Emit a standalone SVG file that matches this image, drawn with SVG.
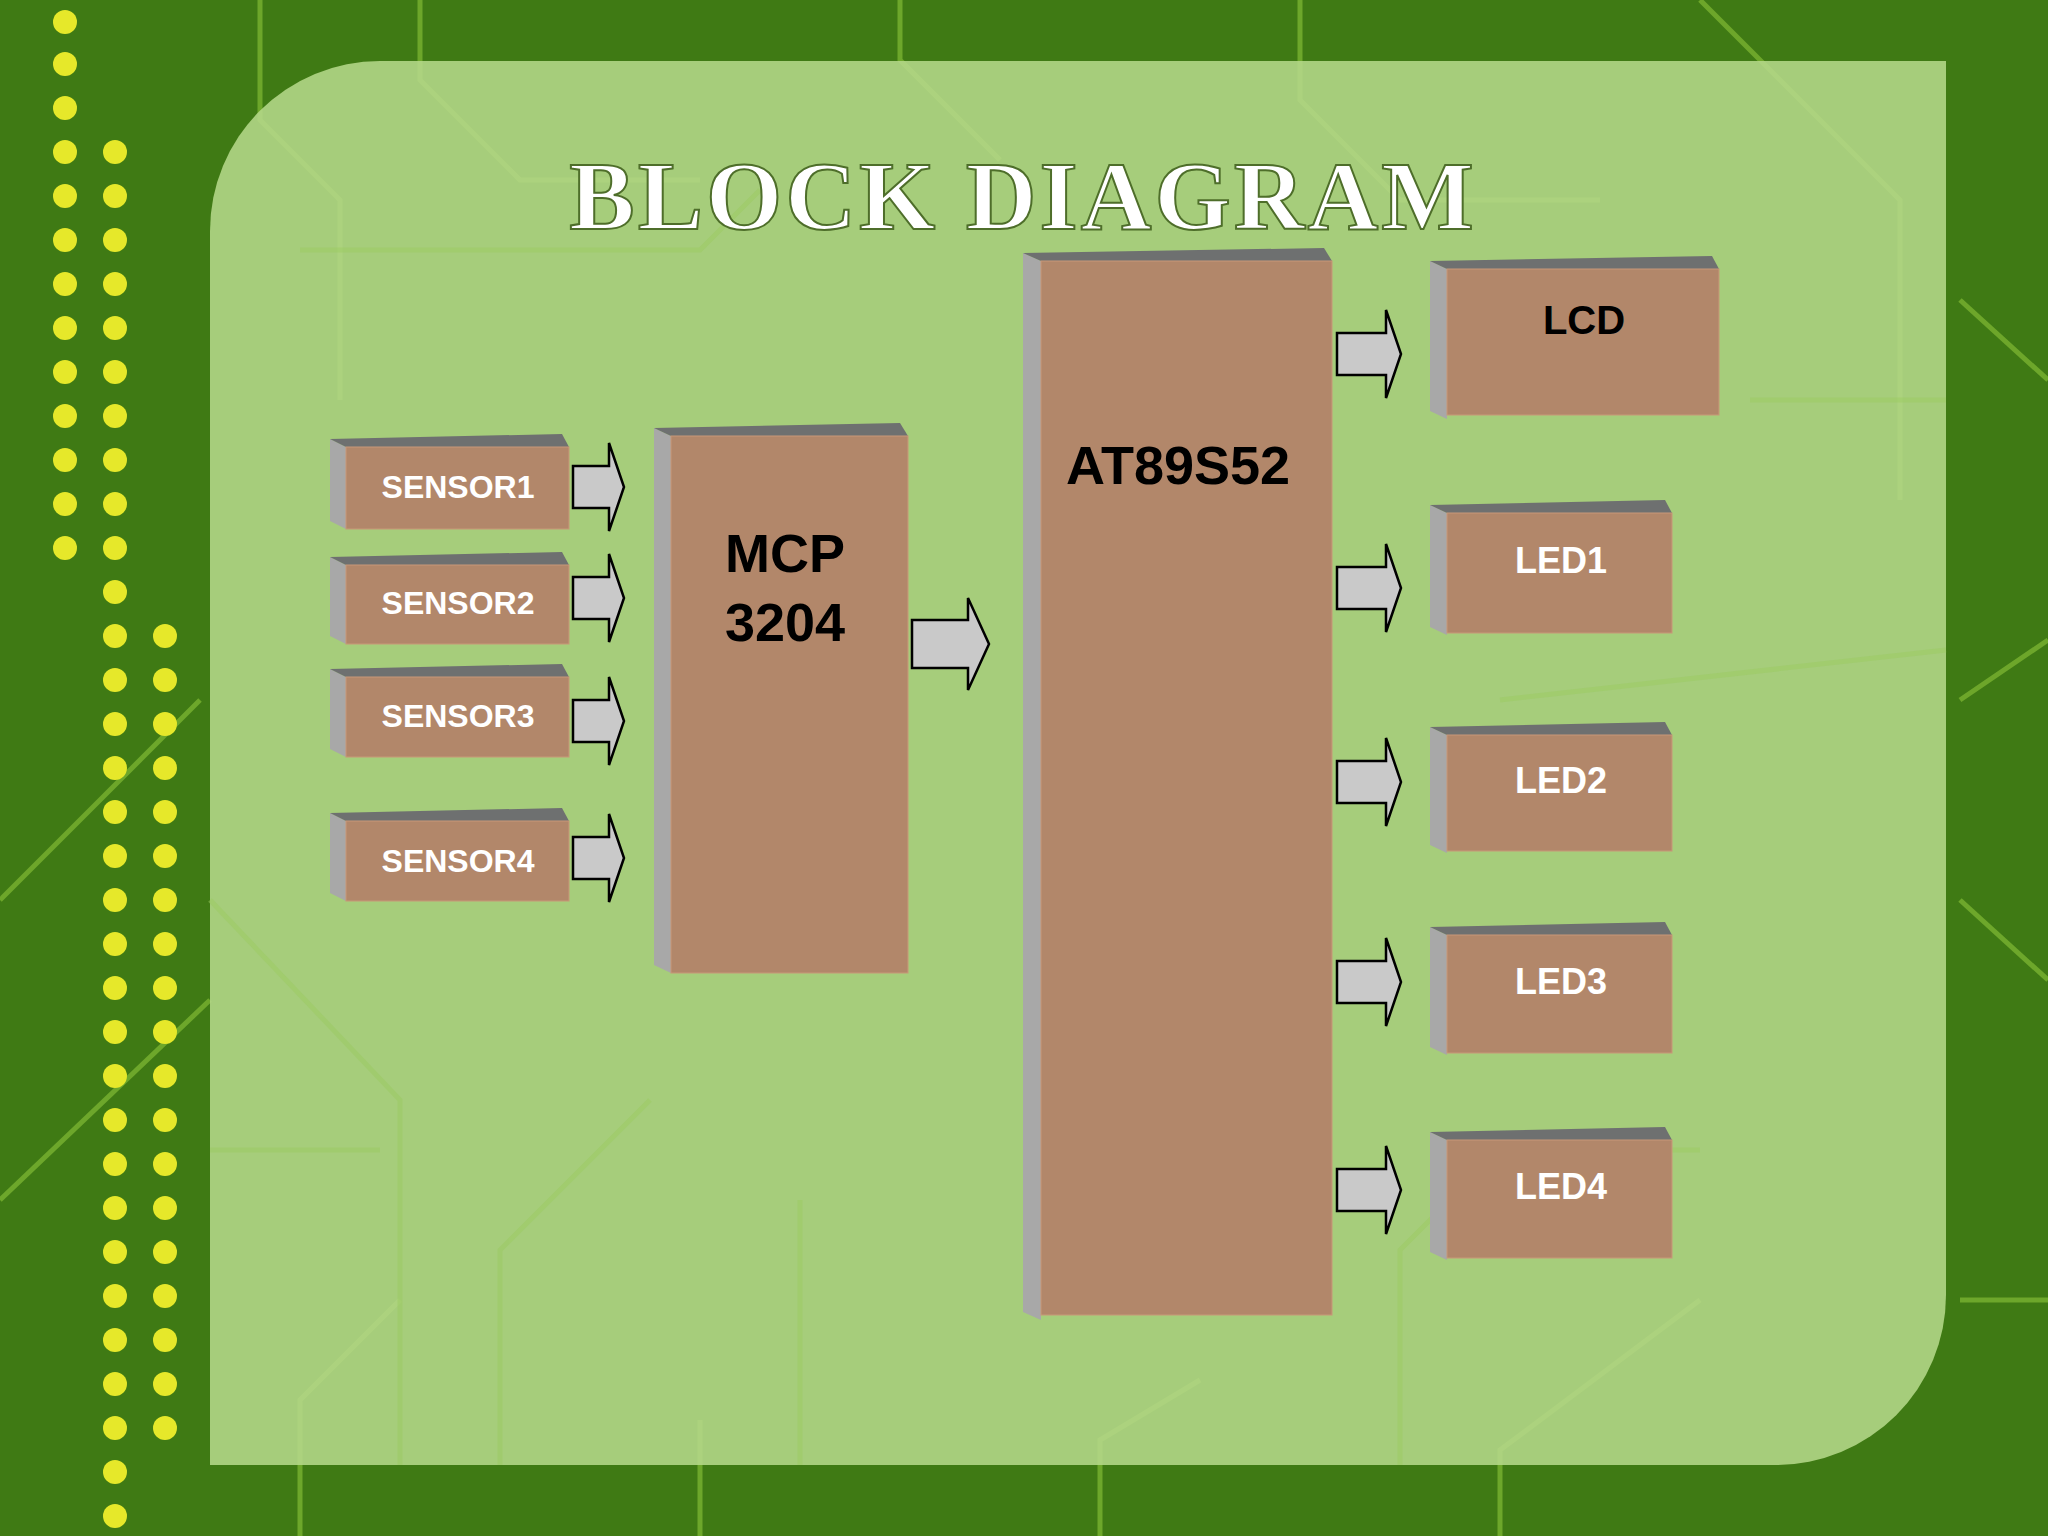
<svg xmlns="http://www.w3.org/2000/svg" width="2048" height="1536" viewBox="0 0 2048 1536">
<defs>
<style>
.front{fill:#B2876A;stroke:#C89878;stroke-width:1}
.side{fill:#A8A8A8}
.top{fill:#6E7070}
.arr{fill:#C9C9C9;stroke:#000;stroke-width:2.5;stroke-linejoin:miter}
.wt{font-family:"Liberation Sans",Arial,sans-serif;font-weight:bold;fill:#fff;font-size:32px;text-anchor:middle}
.bt{font-family:"Liberation Sans",Arial,sans-serif;font-weight:bold;fill:#000;font-size:54px;text-anchor:middle}
.tr{stroke:#8CC43A;stroke-width:5;fill:none;opacity:.6}
.dot{fill:#E6E82A}
</style>
<path id="a1" d="M0,-21 H36 V-44 L51,0 L36,44 V21 H0 Z"/>
<path id="a3" d="M0,-21 H49 V-44 L64,0 L49,44 V21 H0 Z"/>
<path id="a2" d="M0,-24 H56 V-46 L77,0 L56,46 V24 H0 Z"/>
</defs>
<rect width="2048" height="1536" fill="#3F7A14"/>
<g class="tr">
<path d="M260,0 V120 L340,200 V400"/><path d="M420,0 V80 L520,180 H700"/><path d="M900,0 V60 L1000,160"/>
<path d="M1300,0 V100 L1400,200 H1600"/><path d="M1700,0 L1900,200 V500"/><path d="M1960,300 L2048,380"/>
<path d="M0,900 L200,700"/><path d="M0,1200 L210,1000"/><path d="M300,1536 V1400 L400,1300"/><path d="M700,1536 V1420"/>
<path d="M1100,1536 V1440 L1200,1380"/><path d="M1500,1536 V1450 L1700,1300"/><path d="M1960,900 L2048,980"/>
<path d="M1960,1300 H2048"/><path d="M1960,700 L2048,640"/>
</g>
<g>
<circle class="dot" cx="65" cy="22" r="12"/><circle class="dot" cx="65" cy="64" r="12"/><circle class="dot" cx="65" cy="108" r="12"/>
<circle class="dot" cx="65" cy="152" r="12"/><circle class="dot" cx="65" cy="196" r="12"/><circle class="dot" cx="65" cy="240" r="12"/>
<circle class="dot" cx="65" cy="284" r="12"/><circle class="dot" cx="65" cy="328" r="12"/><circle class="dot" cx="65" cy="372" r="12"/>
<circle class="dot" cx="65" cy="416" r="12"/><circle class="dot" cx="65" cy="460" r="12"/><circle class="dot" cx="65" cy="504" r="12"/>
<circle class="dot" cx="65" cy="548" r="12"/>
<circle class="dot" cx="115" cy="152" r="12"/><circle class="dot" cx="115" cy="196" r="12"/><circle class="dot" cx="115" cy="240" r="12"/>
<circle class="dot" cx="115" cy="284" r="12"/><circle class="dot" cx="115" cy="328" r="12"/><circle class="dot" cx="115" cy="372" r="12"/>
<circle class="dot" cx="115" cy="416" r="12"/><circle class="dot" cx="115" cy="460" r="12"/><circle class="dot" cx="115" cy="504" r="12"/>
<circle class="dot" cx="115" cy="548" r="12"/><circle class="dot" cx="115" cy="592" r="12"/><circle class="dot" cx="115" cy="636" r="12"/>
<circle class="dot" cx="115" cy="680" r="12"/><circle class="dot" cx="115" cy="724" r="12"/><circle class="dot" cx="115" cy="768" r="12"/>
<circle class="dot" cx="115" cy="812" r="12"/><circle class="dot" cx="115" cy="856" r="12"/><circle class="dot" cx="115" cy="900" r="12"/>
<circle class="dot" cx="115" cy="944" r="12"/><circle class="dot" cx="115" cy="988" r="12"/><circle class="dot" cx="115" cy="1032" r="12"/>
<circle class="dot" cx="115" cy="1076" r="12"/><circle class="dot" cx="115" cy="1120" r="12"/><circle class="dot" cx="115" cy="1164" r="12"/>
<circle class="dot" cx="115" cy="1208" r="12"/><circle class="dot" cx="115" cy="1252" r="12"/><circle class="dot" cx="115" cy="1296" r="12"/>
<circle class="dot" cx="115" cy="1340" r="12"/><circle class="dot" cx="115" cy="1384" r="12"/><circle class="dot" cx="115" cy="1428" r="12"/>
<circle class="dot" cx="115" cy="1472" r="12"/><circle class="dot" cx="115" cy="1516" r="12"/>
<circle class="dot" cx="165" cy="636" r="12"/><circle class="dot" cx="165" cy="680" r="12"/><circle class="dot" cx="165" cy="724" r="12"/>
<circle class="dot" cx="165" cy="768" r="12"/><circle class="dot" cx="165" cy="812" r="12"/><circle class="dot" cx="165" cy="856" r="12"/>
<circle class="dot" cx="165" cy="900" r="12"/><circle class="dot" cx="165" cy="944" r="12"/><circle class="dot" cx="165" cy="988" r="12"/>
<circle class="dot" cx="165" cy="1032" r="12"/><circle class="dot" cx="165" cy="1076" r="12"/><circle class="dot" cx="165" cy="1120" r="12"/>
<circle class="dot" cx="165" cy="1164" r="12"/><circle class="dot" cx="165" cy="1208" r="12"/><circle class="dot" cx="165" cy="1252" r="12"/>
<circle class="dot" cx="165" cy="1296" r="12"/><circle class="dot" cx="165" cy="1340" r="12"/><circle class="dot" cx="165" cy="1384" r="12"/>
<circle class="dot" cx="165" cy="1428" r="12"/>
</g>
<path d="M380,61 H1946 V1295 A170,170 0 0 1 1776,1465 H210 V231 A170,170 0 0 1 380,61 Z" fill="#B5D88A" opacity="0.88"/>
<g class="tr" style="stroke:#9CCB62;opacity:.5">
<path d="M210,900 L400,1100 V1465"/><path d="M500,1465 V1250 L650,1100"/><path d="M800,1465 V1200"/>
<path d="M1400,1465 V1250 L1500,1150 H1700"/><path d="M1750,400 H1946"/><path d="M1500,700 L1946,650"/>
<path d="M300,250 H700 L760,190"/><path d="M210,1150 H380"/>
</g>
<text x="1023" y="229" text-anchor="middle" font-family="'Liberation Serif','Times New Roman',serif" font-weight="bold" font-size="98" fill="#fff" stroke="#4E6E2A" stroke-width="2" letter-spacing="3">BLOCK DIAGRAM</text>

<g id="connectors">
<use href="#a1" class="arr" x="573" y="487"/>
<use href="#a1" class="arr" x="573" y="598"/>
<use href="#a1" class="arr" x="573" y="721"/>
<use href="#a1" class="arr" x="573" y="858"/>
<use href="#a2" class="arr" x="912" y="644"/>
<use href="#a3" class="arr" x="1337" y="354"/>
<use href="#a3" class="arr" x="1337" y="588"/>
<use href="#a3" class="arr" x="1337" y="782"/>
<use href="#a3" class="arr" x="1337" y="982"/>
<use href="#a3" class="arr" x="1337" y="1190"/>
</g>

<g id="sensor1"><polygon class="side" points="330,439 346,447 346,529 330,521"/><polygon class="top" points="330,439 562,434 569,447 346,447"/><rect class="front" x="346" y="447" width="223" height="82"/><text class="wt" x="458" y="498">SENSOR1</text></g>
<g id="sensor2"><polygon class="side" points="330,557 346,565 346,644 330,636"/><polygon class="top" points="330,557 562,552 569,565 346,565"/><rect class="front" x="346" y="565" width="223" height="79"/><text class="wt" x="458" y="614">SENSOR2</text></g>
<g id="sensor3"><polygon class="side" points="330,669 346,677 346,757 330,749"/><polygon class="top" points="330,669 562,664 569,677 346,677"/><rect class="front" x="346" y="677" width="223" height="80"/><text class="wt" x="458" y="727">SENSOR3</text></g>
<g id="sensor4"><polygon class="side" points="330,813 346,821 346,901 330,893"/><polygon class="top" points="330,813 562,808 569,821 346,821"/><rect class="front" x="346" y="821" width="223" height="80"/><text class="wt" x="458" y="872">SENSOR4</text></g>

<g id="mcp"><polygon class="side" points="654,428 671,436 671,973 654,965"/><polygon class="top" points="654,428 900,423 908,436 671,436"/><rect class="front" x="671" y="436" width="237" height="537"/><text class="bt" x="785" y="572">MCP</text><text class="bt" x="785" y="641">3204</text></g>

<g id="at89s52"><polygon class="side" points="1023,253 1041,261 1041,1320 1023,1312"/><polygon class="top" points="1023,253 1324,248 1332,261 1041,261"/><rect class="front" x="1041" y="261" width="291" height="1054"/><text class="bt" x="1178" y="484">AT89S52</text></g>

<g id="lcd"><polygon class="side" points="1430,261 1447,269 1447,419 1430,411"/><polygon class="top" points="1430,261 1712,256 1719,269 1447,269"/><rect class="front" x="1447" y="269" width="272" height="146"/><text class="wt" x="1584" y="334" style="fill:#000;font-size:40px">LCD</text></g>
<g id="led1"><polygon class="side" points="1430,505 1447,513 1447,635 1430,627"/><polygon class="top" points="1430,505 1665,500 1672,513 1447,513"/><rect class="front" x="1447" y="513" width="225" height="120"/><text class="wt" x="1561" y="573" style="font-size:36px">LED1</text></g>
<g id="led2"><polygon class="side" points="1430,727 1447,735 1447,853 1430,845"/><polygon class="top" points="1430,727 1665,722 1672,735 1447,735"/><rect class="front" x="1447" y="735" width="225" height="116"/><text class="wt" x="1561" y="793" style="font-size:36px">LED2</text></g>
<g id="led3"><polygon class="side" points="1430,927 1447,935 1447,1055 1430,1047"/><polygon class="top" points="1430,927 1665,922 1672,935 1447,935"/><rect class="front" x="1447" y="935" width="225" height="118"/><text class="wt" x="1561" y="994" style="font-size:36px">LED3</text></g>
<g id="led4"><polygon class="side" points="1430,1132 1447,1140 1447,1260 1430,1252"/><polygon class="top" points="1430,1132 1665,1127 1672,1140 1447,1140"/><rect class="front" x="1447" y="1140" width="225" height="118"/><text class="wt" x="1561" y="1199" style="font-size:36px">LED4</text></g>
</svg>
